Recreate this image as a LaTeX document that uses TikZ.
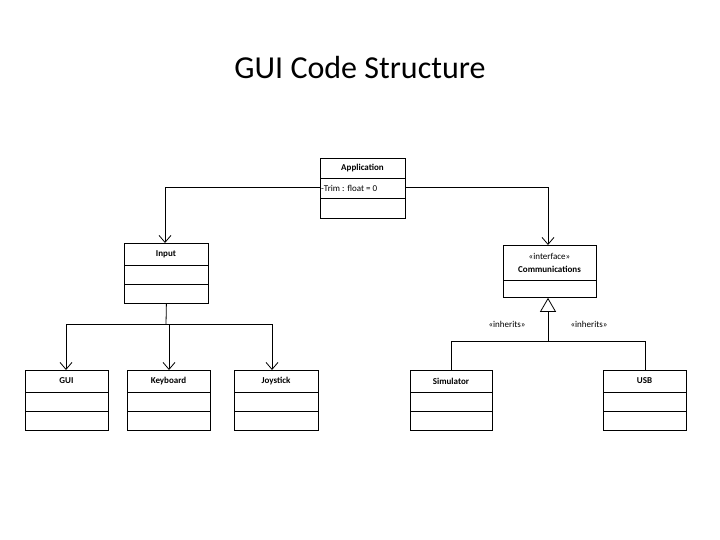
\documentclass[tikz,border=0pt]{standalone}
\usepackage{fontspec}
\setmainfont{Carlito}
\usetikzlibrary{arrows.meta}
\tikzset{
  box/.style={draw, thick, anchor=north west, inner sep=0pt},
  nm/.style={font=\fontsize{9}{10}\selectfont\bfseries},
  lbl/.style={font=\fontsize{9}{10}\selectfont},
  assoc/.style={thick, -{Straight Barb[length=7pt,width=12pt]}},
  inh/.style={thick, -{Triangle[open,length=14pt,width=16pt]}},
  ln/.style={thick}
}
\newcommand{\umlbox}[7]{% name, x, y, w, h, y1, y2 (row separators)
  \node[box, minimum width=#4pt, minimum height=#5pt] (#1) at (#2,#3) {};
  \draw[ln] (#2,#6) -- ++(#4,0);
  \draw[ln] (#2,#7) -- ++(#4,0);
}
\begin{document}
\begin{tikzpicture}[x=1pt,y=-1pt]
\useasboundingbox (0,0) rectangle (720,540);
\node[font=\fontsize{32}{36}\selectfont] (title) at (360,68) {GUI Code Structure};
% Application
\umlbox{app}{320}{158}{85}{60}{178}{198}
\node[nm] (appn) at (362.5,168) {Application};
\node[lbl, anchor=west, inner sep=1pt] (appa) at (320,188) {-Trim : float = 0};
% Input
\umlbox{inp}{124}{243}{84}{60}{265}{284}
\node[nm] (inpn) at (166,254) {Input};
% leaves
\umlbox{gui}{25}{370}{83}{60}{392}{411}
\node[nm] (guin) at (66.5,381) {GUI};
\umlbox{kbd}{127}{370}{83}{60}{392}{411}
\node[nm] (kbdn) at (168.5,381) {Keyboard};
\umlbox{joy}{234}{370}{84}{60}{392}{411}
\node[nm] (joyn) at (276,381) {Joystick};
% Communications
\node[box, minimum width=93pt, minimum height=52pt] (com) at (503,245) {};
\draw[ln] (503,280) -- ++(93,0);
\node[lbl] (coms) at (549.5,256) {«interface»};
\node[nm] (comn) at (549.5,269) {Communications};
\umlbox{sim}{410}{370}{82}{60}{392}{411}
\node[nm] (simn) at (451,381) {Simulator};
\umlbox{usb}{603}{370}{83}{60}{392}{411}
\node[nm] (usbn) at (644.5,381) {USB};
% connectors
\coordinate (jl) at (165,187);
\coordinate (jr) at (548,187);
\draw[assoc] (app.west |- jl) -- (jl) -- (jl |- inp.north);
\draw[assoc] (app.east |- jr) -- (jr) -- (jr |- com.north);
\coordinate (ij) at (166,324);
\draw[ln] (inp.south) -- (ij);
\draw[ln] (66,324) -- (272,324);
\draw[assoc] (66,324) -- (66,370);
\draw[assoc] (169,324) -- (169,370);
\draw[assoc] (272,324) -- (272,370);
\coordinate (cj) at (548,341);
\draw[inh] (cj) -- (com.south -| cj);
\draw[ln] (451,370) -- (451,341) -- (645,341) -- (645,370);
\node[lbl] (i1) at (507,324) {«inherits»};
\node[lbl] (i2) at (589,324) {«inherits»};
\end{tikzpicture}
\end{document}
